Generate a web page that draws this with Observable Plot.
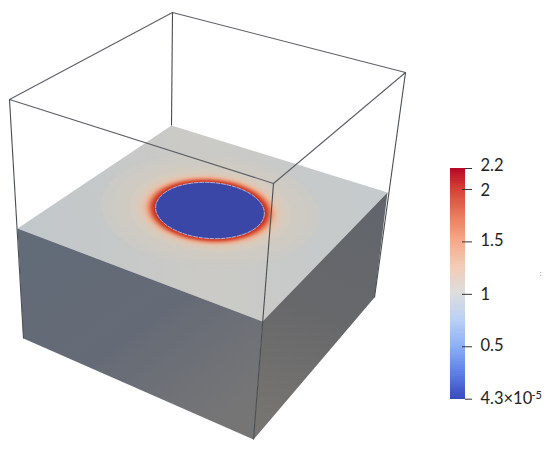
<!DOCTYPE html>
<html>
<head>
<meta charset="utf-8">
<script src="https://cdn.jsdelivr.net/npm/d3@7"></script>
<script src="https://cdn.jsdelivr.net/npm/@observablehq/plot@0.6"></script>
<style>
html,body{margin:0;padding:0;background:#fff;}
#chart{position:relative;width:550px;height:453px;overflow:hidden;}
#chart svg{position:absolute;left:0;top:0;background:transparent;font-family:Lato,"Open Sans",sans-serif;}
</style>
</head>
<body>
<div id="chart"></div>
<script>
// Corners
const plateX = [171, 17, 262, 387];
const plateY = [125, 228, 321, 192];
const leftFaceX = [17, 262, 253, 23];
const leftFaceY = [228, 321, 439, 338];
const rightFaceX = [262, 387, 374, 253];
const rightFaceY = [321, 192, 297, 439];
const wireTopX = [172, 9, 273, 405, 172];
const wireTopY = [12, 99, 183, 72, 12];
const wireEdgeX1 = [172, 9, 273, 405];
const wireEdgeY1 = [12, 99, 183, 72];
const wireEdgeX2 = [171, 23, 253, 374];
const wireEdgeY2 = [125, 338, 439, 297];

// Disc outline and the field around it
const discCentre = [209.5, 210];
const discRadii = [54.5, 28];
const discTiltDeg = 4;
const ringScale = [2.0, 1.8, 1.62, 1.48, 1.38, 1.3, 1.24, 1.19, 1.15, 1.11, 1.08, 1.05, 1.03];
const ringValue = [1.01, 1.03, 1.06, 1.1, 1.16, 1.24, 1.34, 1.46, 1.6, 1.75, 1.92, 2.06, 2.17];
const discValue = 0.00004;

// Colours
const litDomain = [0, 1, 1.1, 1.3, 1.5, 1.8, 2.2];
const litRange = ["#3a47a6", "#cbcac6", "#d4ccc0", "#e4c6b0", "#eca88a", "#e0603f", "#c12a20"];
const barDomain = [0, 0.25, 0.5, 0.75, 1, 1.25, 1.5, 1.75, 2, 2.2];
const barRange = ["#3b4cc0", "#5f82e8", "#8fb1f5", "#bcd0f5", "#dddddd", "#f3ccb8", "#f5a988", "#e8785a", "#d43d34", "#b40426"];
const barTicks = [0.000043, 0.5, 1, 1.5, 2, 2.2];
const barLabels = ["4.3×10", "0.5", "1", "1.5", "2", "2.2"];
const barLabelY = [0.004, 0.51, 1, 1.51, 1.985, 2.23];
const exponentLabel = "-5";

const gradients = [
  {id: "plateFill", x1: 17, y1: 228, x2: 387, y2: 192, stops: ["#c1c7cb", "#cbcac6", "#c4cacd"]},
  {id: "leftFill", x1: 60, y1: 240, x2: 200, y2: 430, stops: ["#626b78", "#656b76", "#757576"]},
  {id: "rightFill", x1: 360, y1: 210, x2: 280, y2: 420, stops: ["#62666c", "#67686a", "#767471"]}
];

const polygon = (xs, ys) => xs.map((x, i) => ({x, y: ys[i]}));

function ellipse(scale, value) {
  const t = discTiltDeg * Math.PI / 180;
  return d3.range(0, 360, 4).map(a => {
    const r = a * Math.PI / 180;
    const u = discRadii[0] * scale * Math.cos(r);
    const v = discRadii[1] * scale * Math.sin(r);
    return {x: discCentre[0] + u * Math.cos(t) - v * Math.sin(t),
            y: discCentre[1] + u * Math.sin(t) + v * Math.cos(t),
            scale, value};
  });
}
const rings = ringScale.flatMap((s, i) => ellipse(s, ringValue[i]));
const disc = ellipse(1, discValue);

const defs = () => {
  const svg = d3.create("svg:defs");
  for (const g of gradients) {
    const lg = svg.append("linearGradient").attr("id", g.id).attr("gradientUnits", "userSpaceOnUse")
      .attr("x1", g.x1).attr("y1", g.y1).attr("x2", g.x2).attr("y2", g.y2);
    g.stops.forEach((c, i) => lg.append("stop").attr("offset", i / (g.stops.length - 1)).attr("stop-color", c));
  }
  return svg.node();
};

const solid = (xs, ys, fill) => Plot.line(polygon(xs, ys), {x: "x", y: "y", fill, stroke: "none", curve: "linear-closed"});

const scene = Plot.plot({
  width: 550, height: 453, margin: 0,
  x: {domain: [0, 550], range: [0, 550], axis: null},
  y: {domain: [0, 453], range: [0, 453], axis: null},
  color: {type: "linear", domain: litDomain, range: litRange, interpolate: "rgb"},
  marks: [
    defs,
    solid(plateX, plateY, "url(#plateFill)"),
    Plot.line(rings, {x: "x", y: "y", z: "scale", fill: "value", stroke: "none", curve: "linear-closed", imageFilter: "blur(1px)"}),
    Plot.line(disc, {x: "x", y: "y", z: "scale", fill: "value", stroke: "#bcc0de", strokeWidth: 0.9, strokeDasharray: "4,1.5", curve: "linear-closed"}),
    solid(leftFaceX, leftFaceY, "url(#leftFill)"),
    solid(rightFaceX, rightFaceY, "url(#rightFill)"),
    Plot.line(polygon(wireTopX, wireTopY), {x: "x", y: "y", stroke: "#5c5f63", strokeWidth: 1.1}),
    Plot.link(wireEdgeX1.map((x1, i) => ({x1, y1: wireEdgeY1[i], x2: wireEdgeX2[i], y2: wireEdgeY2[i]})),
      {x1: "x1", y1: "y1", x2: "x2", y2: "y2", stroke: "#4a4d50", strokeWidth: 1.1}),
    Plot.text([":"], {x: [540], y: [273], fontSize: 7, fill: "#777"})
  ]
});

const barSteps = d3.range(0, 2.2, 0.02);
const colorbar = Plot.plot({
  width: 550, height: 453,
  marginLeft: 450, marginRight: 85, marginTop: 168, marginBottom: 54.3,
  style: {background: "transparent"},
  x: {domain: [0, 1], axis: null},
  y: {domain: [0, 2.2], axis: null},
  color: {type: "linear", domain: barDomain, range: barRange, interpolate: "rgb"},
  marks: [
    Plot.rect(barSteps, {x1: 0, x2: 1, y1: d => d, y2: d => Math.min(2.2, d + 0.04), fill: d => d, shapeRendering: "crispEdges"}),
    Plot.ruleY(barTicks, {x1: d => (d > 0.001 && d < 2.2 ? 0.8 : 1), x2: 1.47, stroke: "#333"}),
    Plot.text(barLabels, {x: 2, y: (d, i) => barLabelY[i], text: d => d, textAnchor: "start", fontSize: 16.5, fill: "#222"}),
    Plot.text([exponentLabel], {x: 5.4, y: 0.04, text: d => d, textAnchor: "start", fontSize: 11, fill: "#222"})
  ]
});

const root = document.getElementById("chart");
root.append(scene, colorbar);
</script>
</body>
</html>
